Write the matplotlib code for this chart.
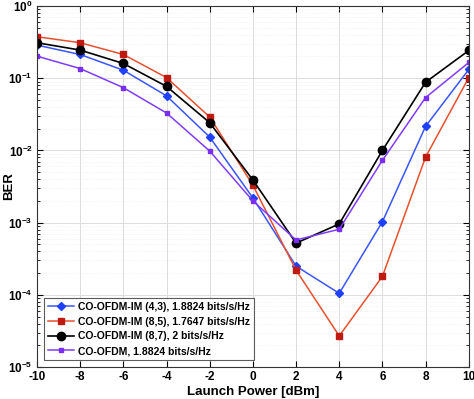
import matplotlib
matplotlib.use("Agg")
import matplotlib.pyplot as plt
from matplotlib.ticker import LogLocator, FixedLocator, FuncFormatter

plt.rcParams['font.family'] = ['Liberation Sans', 'DejaVu Sans']
plt.rcParams['axes.unicode_minus'] = False

x = [-10, -8, -6, -4, -2, 0, 2, 4, 6, 8, 10]
ber_im43 = [0.287, 0.213, 0.129, 0.057, 0.0153, 0.0022, 2.5e-4, 1.05e-4, 1.03e-3, 0.0216, 0.132]
ber_im85 = [0.375, 0.31, 0.213, 0.102, 0.029, 0.0033, 2.2e-4, 2.7e-5, 1.8e-4, 0.0081, 0.102]
ber_im87 = [0.31, 0.245, 0.16, 0.077, 0.0242, 0.0039, 5.2e-4, 9.6e-4, 0.01, 0.088, 0.242]
ber_ofdm = [0.202, 0.136, 0.074, 0.033, 0.0098, 0.002, 5.75e-4, 8.1e-4, 0.0073, 0.054, 0.165]
labels = ["CO-OFDM-IM (4,3), 1.8824 bits/s/Hz",
          "CO-OFDM-IM (8,5), 1.7647 bits/s/Hz",
          "CO-OFDM-IM (8,7), 2 bits/s/Hz",
          "CO-OFDM, 1.8824 bits/s/Hz"]
xticks = [-10, -8, -6, -4, -2, 0, 2, 4, 6, 8, 10]

fig = plt.figure(figsize=(4.74, 3.99), dpi=100)
ax = fig.add_axes([0.078, 0.080, 0.911, 0.905])

ax.plot(x, ber_im43, color='#3a55ff', lw=1.1, marker='D', ms=4.5,
        mfc='#2040ff', mec='#2040ff', label=labels[0])
ax.plot(x, ber_im85, color='#e8502e', lw=1.1, marker='s', ms=4.5,
        mfc='#c01a10', mec='#c01a10', label=labels[1])
ax.plot(x, ber_im87, color='black', lw=1.2, marker='o', ms=6,
        mfc='black', mec='black', label=labels[2])
ax.plot(x, ber_ofdm, color='#7f3cff', lw=1.1, marker='s', ms=3.5,
        mfc='#7a2ff0', mec='#7a2ff0', label=labels[3])

ax.set_yscale('log')
ax.set_xlim(-10, 10)
ax.set_ylim(1e-5, 1)
ax.xaxis.set_major_locator(FixedLocator(xticks))
ax.xaxis.set_major_formatter(FuncFormatter(lambda v, p: '%d' % v))
ax.yaxis.set_major_locator(LogLocator(base=10, numticks=10))
ax.yaxis.set_minor_locator(LogLocator(base=10, subs=range(2, 10), numticks=20))
ax.grid(True, which='major', color='#dcdcdc', lw=0.7)
ax.grid(True, which='minor', color='#ececec', lw=0.5, ls=':')
ax.set_axisbelow(True)
ax.tick_params(which='both', direction='in', top=True, right=True, labelsize=8.5)
ax.tick_params(which='major', length=4, pad=3)
ax.tick_params(which='minor', length=2)
for lab in ax.get_xticklabels() + ax.get_yticklabels():
    lab.set_fontweight('bold')
for s in ax.spines.values():
    s.set_linewidth(0.8)
    s.set_color('#333333')

ax.set_xlabel('Launch Power [dBm]', fontweight='bold', fontsize=9.5, labelpad=2)
ax.set_ylabel('BER', fontweight='bold', fontsize=9.5)
ax.yaxis.set_label_coords(-0.05, 0.5)

leg = ax.legend(loc='lower left', prop={'weight': 'bold', 'size': 7.5},
                frameon=True, fancybox=False, edgecolor='#333333',
                borderaxespad=0.7, handlelength=2.5, handletextpad=0.4,
                labelspacing=0.45, borderpad=0.35)
leg.get_frame().set_linewidth(0.8)

fig.savefig('out.png', dpi=100)
